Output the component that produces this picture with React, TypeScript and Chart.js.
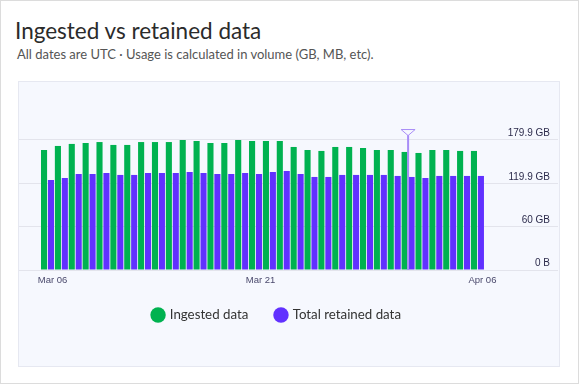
import React, { useEffect, useRef } from "react";
import { Chart, registerables } from "chart.js";

Chart.register(...registerables);

// ---- data ----
const dates = [
  "Mar 06", "Mar 07", "Mar 08", "Mar 09", "Mar 10", "Mar 11", "Mar 12", "Mar 13",
  "Mar 14", "Mar 15", "Mar 16", "Mar 17", "Mar 18", "Mar 19", "Mar 20", "Mar 21",
  "Mar 22", "Mar 23", "Mar 24", "Mar 25", "Mar 26", "Mar 27", "Mar 28", "Mar 29",
  "Mar 30", "Mar 31", "Apr 01", "Apr 02", "Apr 03", "Apr 04", "Apr 05", "Apr 06",
];
const ingestedGB = [
  166, 171.6, 174.4, 175.7, 177, 173, 173, 177, 177, 177, 179.9, 178.5, 175.7, 175.7, 179.9, 178.5,
  178.5, 178.5, 170.2, 166, 164.7, 170.2, 170.2, 168.8, 166, 166, 163.3, 161.9, 166, 166, 164.7, 164.7,
];
const retainedGB = [
  124.5, 127.3, 132.8, 132.8, 134.2, 131.5, 131.5, 134.2, 134.2, 134.2, 135.6, 134.2, 132.8, 132.8, 134.2, 132.8,
  135.6, 137, 132.8, 128.7, 128.7, 131.5, 131.5, 131.5, 131.5, 130.1, 128.7, 127.3, 130.1, 130.1, 130.1, 130.1,
];
const xTickLabels = ["Mar 06", "Mar 21", "Apr 06"];
const yTickValues = [0, 59.97, 119.93, 179.9];
const yTickLabels = ["0 B", "60 GB", "119.9 GB", "179.9 GB"];
const seriesNames = ["Ingested data", "Total retained data"];
const markerDate = "Apr 01";
const markerTopGB = 195;
const yMax = 249;

// ---- style ----
const GREEN = "#00b250";
const PURPLE = "#6131ff";
const MARKER = "#a88cf7";
const GRID = "#e3e4ec";
const AXIS_W = 23;
const X_MIN = -2.055;
const X_MAX = 35.15;

const markerPlugin = {
  id: "eventMarker",
  afterDatasetsDraw(chart: any) {
    const { ctx, scales } = chart;
    const xs = scales.x;
    const ys = scales.y;
    const px = xs.getPixelForValue(dates.indexOf(markerDate));
    const top = ys.getPixelForValue(markerTopGB);
    const bottom = ys.getPixelForValue(0);
    ctx.save();
    ctx.strokeStyle = MARKER;
    ctx.lineWidth = 2;
    ctx.beginPath();
    ctx.moveTo(px, top + 6);
    ctx.lineTo(px, bottom);
    ctx.stroke();
    ctx.beginPath();
    ctx.moveTo(px - 7, top + 0.5);
    ctx.lineTo(px + 7, top + 0.5);
    ctx.lineTo(px, top + 6.5);
    ctx.closePath();
    ctx.fillStyle = "#f6f8fe";
    ctx.fill();
    ctx.lineWidth = 1;
    ctx.stroke();
    ctx.restore();
  },
};

function BarChart() {
  const ref = useRef<HTMLCanvasElement | null>(null);
  useEffect(() => {
    if (!ref.current) return;
    const chart = new Chart(ref.current, {
      type: "bar",
      data: {
        datasets: [
          {
            label: seriesNames[0],
            data: ingestedGB.map((v, i) => ({ x: i, y: v })),
            backgroundColor: GREEN,
            borderWidth: 0,
          },
          {
            label: seriesNames[1],
            data: retainedGB.map((v, i) => ({ x: i, y: v })),
            backgroundColor: PURPLE,
            borderWidth: 0,
          },
        ],
      },
      options: {
        animation: false,
        responsive: false,
        maintainAspectRatio: false,
        datasets: { bar: { categoryPercentage: 1, barPercentage: 0.88 } },
        layout: { padding: { top: 8, bottom: 33.35, left: 0, right: 0 } },
        scales: {
          x: {
            type: "linear",
            offset: false,
            min: X_MIN,
            max: X_MAX,
            afterBuildTicks: (s: any) => {
              s.ticks = xTickLabels.map((l) => ({ value: dates.indexOf(l) }));
            },
            grid: { display: false, drawTicks: false },
            border: { display: false },
            ticks: {
              padding: 5,
              labelOffset: 5,
              maxRotation: 0,
              autoSkip: false,
              color: "#4a496c",
              font: { family: "'Liberation Sans', Arial, sans-serif", size: 9.5 },
              callback: (v: any) => dates[v as number],
            },
          },
          y: {
            position: "right",
            min: 0,
            max: yMax,
            afterBuildTicks: (s: any) => {
              s.ticks = yTickValues.map((v) => ({ value: v }));
            },
            afterFit: (s: any) => {
              s.width = AXIS_W;
              s.paddingTop = 0;
              s.paddingBottom = 0;
            },
            grid: { color: GRID, drawTicks: true, tickLength: AXIS_W, tickColor: GRID },
            border: { display: false },
            ticks: {
              mirror: true,
              padding: 15,
              labelOffset: -6.5,
              color: "#2c2b4c",
              font: { family: "'Liberation Sans', Arial, sans-serif", size: 10 },
              callback: (_v: any, i: number) => yTickLabels[i],
            },
          },
        },
        plugins: {
          legend: {
            position: "bottom",
            fullSize: false,
            title: { display: true, text: "", padding: { top: -10.65, bottom: 0 }, font: { size: 1, lineHeight: 0 } },
            labels: {
              usePointStyle: true,
              pointStyle: "circle",
              boxWidth: 10.1,
              boxHeight: 10.9,
              padding: 27.6,
              color: "#333333",
              font: { family: "Lato, sans-serif", size: 13.3 },
            },
          },
          tooltip: { enabled: false },
        },
      },
      plugins: [markerPlugin],
    } as any);
    return () => chart.destroy();
  }, []);
  return <canvas ref={ref} width={539} height={283} style={{ display: "block", width: 539, height: 283 }} />;
}

export default function App() {
  return (
    <div
      style={{
        position: "fixed",
        left: 0,
        top: 0,
        width: 579,
        height: 384,
        boxSizing: "border-box",
        border: "1px solid #dcdcdc",
        background: "#ffffff",
        fontFamily: "Lato, sans-serif",
      }}
    >
      <div
        style={{
          position: "absolute",
          left: 14,
          top: 18.5,
          fontSize: 22.5,
          lineHeight: "22px",
          color: "#2b2b2b",
          whiteSpace: "nowrap",
        }}
      >
        Ingested vs retained data
      </div>
      <div
        style={{
          position: "absolute",
          left: 16,
          top: 47,
          fontSize: 13,
          lineHeight: "13px",
          color: "#555555",
          whiteSpace: "nowrap",
        }}
      >
        All dates are UTC · Usage is calculated in volume (GB, MB, etc).
      </div>
      <div
        style={{
          position: "absolute",
          left: 16,
          top: 79,
          width: 542,
          height: 286,
          boxSizing: "border-box",
          border: "1px solid #e6e8f1",
          background: "#f6f8fe",
          transform: "translate(1px, 1px)",
        }}
      >
        <BarChart />
      </div>
    </div>
  );
}
